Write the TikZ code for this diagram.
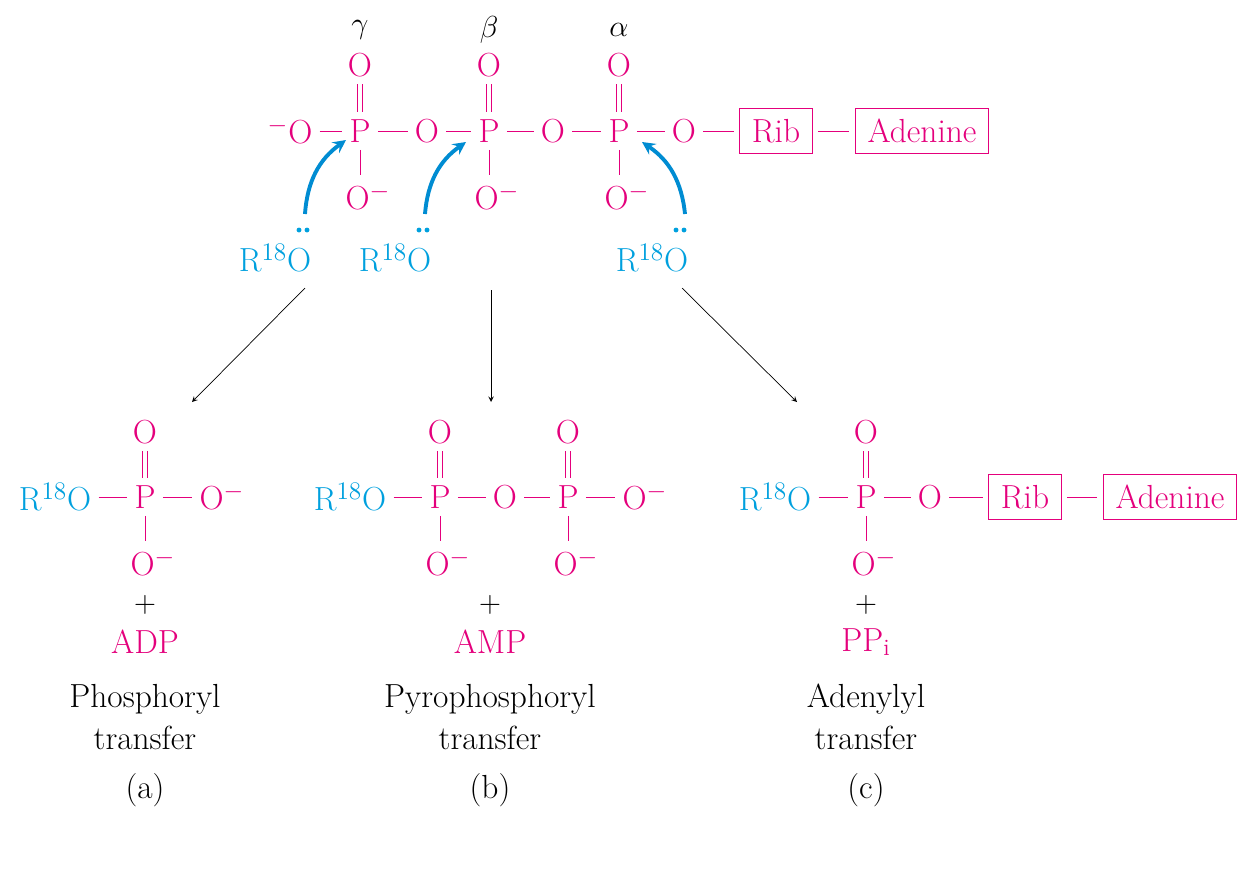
\documentclass[tikz,border=0pt]{standalone}
\usepackage{amsmath}
\definecolor{rose}{RGB}{228,0,124}
\definecolor{sky}{RGB}{0,160,222}
\definecolor{arrblue}{RGB}{0,140,210}
\tikzset{
  atom/.style={text=rose,inner sep=1pt,font=\fontsize{19}{22}\selectfont},
  rgrp/.style={text=sky,inner sep=1pt,font=\fontsize{19}{22}\selectfont},
  bond/.style={draw=rose,line width=0.5pt,shorten >=3pt,shorten <=3pt},
  dbond/.style={draw=rose,line width=0.5pt,shorten >=3pt,shorten <=3pt,double=white,double distance=2.5pt},
  boxed/.style={atom,draw=rose,line width=0.6pt,inner xsep=7pt,inner ysep=6pt},
  caption/.style={inner sep=1pt,font=\fontsize{19}{22}\selectfont,align=center},
  attack/.style={->,>=stealth,draw=arrblue,line width=2.2pt},
  react/.style={->,>=stealth,thin}
}
\newcommand{\lonepair}[1]{\fill[sky] ($(#1)+(-4,-28)$) circle(1.4pt) ($(#1)+(4,-28)$) circle(1.4pt);}
\usetikzlibrary{calc}
\begin{document}
\begin{tikzpicture}[x=0.02cm,y=-0.02cm]
\useasboundingbox (0,0) rectangle (1258,873);
% ATP
\node[atom] (o1) at (290,131) {$^-$O};
\node[atom] (pg) at (360,131) {P};
\node[atom] (o2) at (427,131) {O};
\node[atom] (pb) at (489,131) {P};
\node[atom] (o3) at (553,131) {O};
\node[atom] (pa) at (619,131) {P};
\node[atom] (o4) at (684,131) {O};
\node[boxed] (rib) at (776,131) {Rib};
\node[boxed] (ade) at (922,131) {Adenine};
\foreach \p/\x/\g in {pg/360/\gamma,pb/489/\beta,pa/619/\alpha}{
  \node[atom] (\p t) at (\x,65) {O};
  \node[atom] (\p b) at (\x+8,197) {O$^-$};
  \node[inner sep=1pt,font=\fontsize{19}{22}\selectfont] at (\x,30) {$\g$};
  \draw[dbond] (\p t) -- (\p);
  \draw[bond] (\p) -- (\x,180);
}
\draw[bond] (o1) -- (pg); \draw[bond] (pg) -- (o2); \draw[bond] (o2) -- (pb);
\draw[bond] (pb) -- (o3); \draw[bond] (o3) -- (pa); \draw[bond] (pa) -- (o4);
\draw[bond] (o4) -- (rib); \draw[bond] (rib) -- (ade);
% nucleophiles
\node[rgrp] (r1) at (275,258) {R$^{18}$O};
\node[rgrp] (r2) at (395,258) {R$^{18}$O};
\node[rgrp] (r3) at (652,258) {R$^{18}$O};
\lonepair{303,258} \lonepair{423,258} \lonepair{680,258}
\draw[attack] (305,214) to[bend left=25] (346,140);
\draw[attack] (425,214) to[bend left=25] (466,142);
\draw[attack] (685,214) to[bend right=25] (642,142);
\coordinate (ea) at (192,402); \coordinate (eb) at (491,402); \coordinate (ec) at (797,402);
\draw[react] (305,288) -- (ea);
\draw[react] (491,290) -- (eb);
\draw[react] (682,288) -- (ec);
% (a)
\node[rgrp] (ar) at (55,497) {R$^{18}$O};
\node[atom] (ap) at (145,497) {P};
\node[atom] (ao) at (222,497) {O$^-$};
\node[atom] (aot) at (145,432) {O};
\node[atom] (aob) at (153,563) {O$^-$};
\draw[bond] (ar) -- (ap); \draw[bond] (ap) -- (ao);
\draw[dbond] (aot) -- (ap); \draw[bond] (ap) -- (145,546);
\node[caption] at (145,605) {$+$};
\node[atom] at (145,642) {ADP};
\node[caption] at (145,717) {Phosphoryl\\[2pt]transfer};
\node[caption] at (145,790) {(a)};
% (b)
\node[rgrp] (br) at (350,497) {R$^{18}$O};
\node[atom] (bp1) at (440,497) {P};
\node[atom] (bo) at (505,497) {O};
\node[atom] (bp2) at (568,497) {P};
\node[atom] (boe) at (645,497) {O$^-$};
\foreach \p/\x in {bp1/440,bp2/568}{
  \node[atom] (\p t) at (\x,432) {O};
  \node[atom] (\p b) at (\x+8,563) {O$^-$};
  \draw[dbond] (\p t) -- (\p);
  \draw[bond] (\p) -- (\x,546);
}
\draw[bond] (br) -- (bp1); \draw[bond] (bp1) -- (bo); \draw[bond] (bo) -- (bp2); \draw[bond] (bp2) -- (boe);
\node[caption] at (490,605) {$+$};
\node[atom] at (490,642) {AMP};
\node[caption] at (490,717) {Pyrophosphoryl\\[2pt]transfer};
\node[caption] at (490,790) {(b)};
% (c)
\node[rgrp] (cr) at (775,497) {R$^{18}$O};
\node[atom] (cp) at (866,497) {P};
\node[atom] (co) at (930,497) {O};
\node[boxed] (crib) at (1025,497) {Rib};
\node[boxed] (cade) at (1170,497) {Adenine};
\node[atom] (cot) at (866,432) {O};
\node[atom] (cob) at (874,563) {O$^-$};
\draw[bond] (cr) -- (cp); \draw[bond] (cp) -- (co); \draw[bond] (co) -- (crib); \draw[bond] (crib) -- (cade);
\draw[dbond] (cot) -- (cp); \draw[bond] (cp) -- (866,546);
\node[caption] at (866,605) {$+$};
\node[atom] at (866,642) {PP$_{\text{i}}$};
\node[caption] at (866,717) {Adenylyl\\[2pt]transfer};
\node[caption] at (866,790) {(c)};
\end{tikzpicture}
\end{document}
